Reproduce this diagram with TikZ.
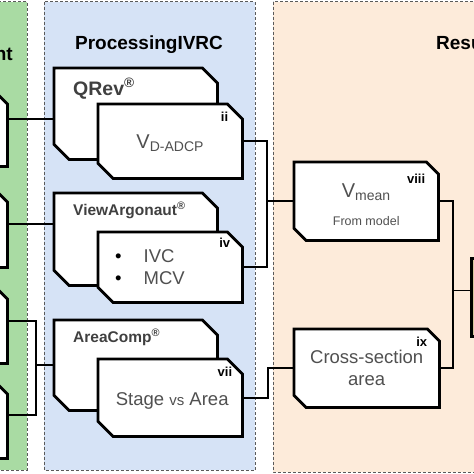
\documentclass[tikz,border=0pt]{standalone}
\usepackage{fontspec}
\setmainfont{Liberation Sans}
\usetikzlibrary{positioning, calc, backgrounds}
\definecolor{PanelGreen}{RGB}{169, 219, 163}
\definecolor{PanelBlue}{RGB}{214, 227, 246}
\definecolor{PanelPeach}{RGB}{253, 235, 218}
\definecolor{ResultTan}{RGB}{217, 199, 160}
\definecolor{BorderGrey}{RGB}{90, 90, 90}
\definecolor{ToolGrey}{RGB}{64, 64, 64}
\definecolor{ValueGrey}{RGB}{80, 80, 80}

\begin{document}
\begin{tikzpicture}[x=1pt, y=-1pt,
        panel/.style={draw=BorderGrey, line width=1pt, dash pattern=on 3pt off 2pt},
        boxline/.style={draw=black, fill=white, line width=2.8pt, line join=miter},
        boxarea/.style={inner sep=0pt, anchor=north west},
        wire/.style={black, line width=1.6pt},
        heading/.style={font=\fontsize{19}{23}\selectfont\bfseries, inner sep=0pt},
        tool/.style={font=\fontsize{15.5}{19}\selectfont\bfseries, text=ToolGrey, anchor=base west, inner sep=0pt},
        value/.style={font=\fontsize{18.5}{22}\selectfont, text=ValueGrey, inner sep=0pt},
        numeral/.style={font=\fontsize{13}{15}\selectfont\bfseries, anchor=base east, inner sep=0pt}]

        \useasboundingbox (0,0) rectangle (474,474);

        % --- BOX AREAS ---
        \node[boxarea, minimum width=87pt, minimum height=72pt] (g1) at (-80,94) {};
        \node[boxarea, minimum width=87pt, minimum height=75pt] (g2) at (-80,192) {};
        \node[boxarea, minimum width=87pt, minimum height=74pt] (g3) at (-80,289) {};
        \node[boxarea, minimum width=87pt, minimum height=74pt] (g4) at (-80,384) {};

        \node[boxarea, minimum width=163pt, minimum height=91pt] (qrev) at (54,68) {};
        \node[boxarea, minimum width=144pt, minimum height=74pt] (vadcp) at (98,104) {};
        \node[boxarea, minimum width=163pt, minimum height=92pt] (argo) at (54,193) {};
        \node[boxarea, minimum width=144pt, minimum height=70pt] (ivc) at (98,232) {};
        \node[boxarea, minimum width=163pt, minimum height=90pt] (area) at (54,320) {};
        \node[boxarea, minimum width=144pt, minimum height=77pt] (stage) at (98,359) {};

        \node[boxarea, minimum width=144pt, minimum height=78pt] (vmean) at (294,162) {};
        \node[boxarea, minimum width=145pt, minimum height=78pt] (xsec) at (294,329) {};
        \node[boxarea, minimum width=60pt, minimum height=78pt, draw, fill=ResultTan, line width=2.8pt] (resultbox) at (470,257) {};

        % --- PANELS AND OUTLINES ---
        \begin{scope}[on background layer]
            \draw[panel, fill=PanelGreen] (-20,1.5) rectangle (27,470);
            \draw[panel, fill=PanelBlue] (44,1.5) rectangle (255,470);
            \draw[panel, fill=PanelPeach] (273,1.5) rectangle (520,472);
            \foreach \b/\c in {g1/10, g2/10, g3/10, g4/10, qrev/15, vadcp/15, argo/15, ivc/15, area/15, stage/15, vmean/12, xsec/12}
                \draw[boxline] (\b.north west) -- ([xshift=-\c pt]\b.north east) -- ([yshift=-\c pt]\b.north east)
                    -- (\b.south east) -- ([xshift=\c pt]\b.south west) -- ([yshift=\c pt]\b.south west) -- cycle;
        \end{scope}

        % --- HEADINGS ---
        \node[heading, anchor=base east] (meastitle) at (13,60) {nt};
        \node[heading, anchor=base] (proctitle) at (149,49) {ProcessingIVRC};
        \node[heading, anchor=base west] (restitle) at (436,49) {Resu};

        % --- TEXTS ---
        \node[tool, font=\fontsize{19.5}{23}\selectfont\bfseries] (qrevt) at ($(qrev.north west)+(19,27)$) {QRev\textsuperscript{®}};
        \node[tool] (argot) at ($(argo.north west)+(19,22)$) {ViewArgonaut\textsuperscript{®}};
        \node[tool] (areat) at ($(area.north west)+(19,22)$) {AreaComp\textsuperscript{®}};

        \node[value, anchor=base, font=\fontsize{20}{24}\selectfont] (vadcpt) at ($(vadcp.center)+(0,7)$) {V\textsubscript{D-ADCP}};
        \node[value, anchor=west, align=left] (ivct) at ($(ivc.west)+(17,-0.5)$) {\textcolor{black}{\textbullet}\hspace{22pt}IVC\\\textcolor{black}{\textbullet}\hspace{22pt}MCV};
        \node[value, anchor=base] (staget) at ($(stage.center)+(2,8)$) {Stage {\fontsize{15}{18}\selectfont vs} Area};
        \node[value, anchor=base, font=\fontsize{20}{24}\selectfont] (vmeant) at ($(vmean.center)+(0,-4)$) {V\textsubscript{mean}};
        \node[value, anchor=base, font=\fontsize{12.5}{15}\selectfont] (vmeannote) at ($(vmean.center)+(0,24)$) {From model};
        \node[value, align=center] (xsect) at (xsec.center) {Cross-section\\area};

        \node[numeral] (num2) at ($(vadcp.north east)+(-14,17)$) {ii};
        \node[numeral] (num4) at ($(ivc.north east)+(-12,15)$) {iv};
        \node[numeral] (num7) at ($(stage.north east)+(-10,17)$) {vii};
        \node[numeral] (num8) at ($(vmean.north east)+(-13,21)$) {viii};
        \node[numeral] (num9) at ($(xsec.north east)+(-12,17)$) {ix};

        % Connectors in
        \coordinate (qrevin) at ($(qrev.west)+(0,5.5)$);
        \coordinate (argoin) at ($(argo.west)+(0,-15)$);
        \coordinate (g3out) at ($(g3.east)+(0,-5)$);
        \coordinate (g4out) at ($(g4.east)+(0,-6)$);
        \coordinate (areafork) at ($(area.west)+(-18,0)$);
        \draw[wire] (g1.east |- qrevin) -- (qrevin);
        \draw[wire] (g2.east |- argoin) -- (argoin);
        \draw[wire] (g3out) -| (areafork);
        \draw[wire] (g4out) -| (areafork);
        \draw[wire] (areafork) -- (area.west);

        % Connectors out
        \coordinate (procfork) at ($(vmean.west)+(-27,0)$);
        \coordinate (xsecbend) at ($(stage.east)!0.5!(xsec.west)$);
        \coordinate (resfork) at ($(resultbox.west)+(-17,-7)$);
        \draw[wire] (vadcp.east) -| (procfork);
        \draw[wire] (ivc.east) -| (procfork);
        \draw[wire] (procfork) -- (vmean.west);
        \draw[wire] (stage.east) -| (xsecbend) |- (xsec.west);
        \draw[wire] (vmean.east) -| (resfork);
        \draw[wire] (xsec.east) -| (resfork);
        \draw[wire] (resfork) -- (resfork -| resultbox.west);

\end{tikzpicture}
\end{document}
